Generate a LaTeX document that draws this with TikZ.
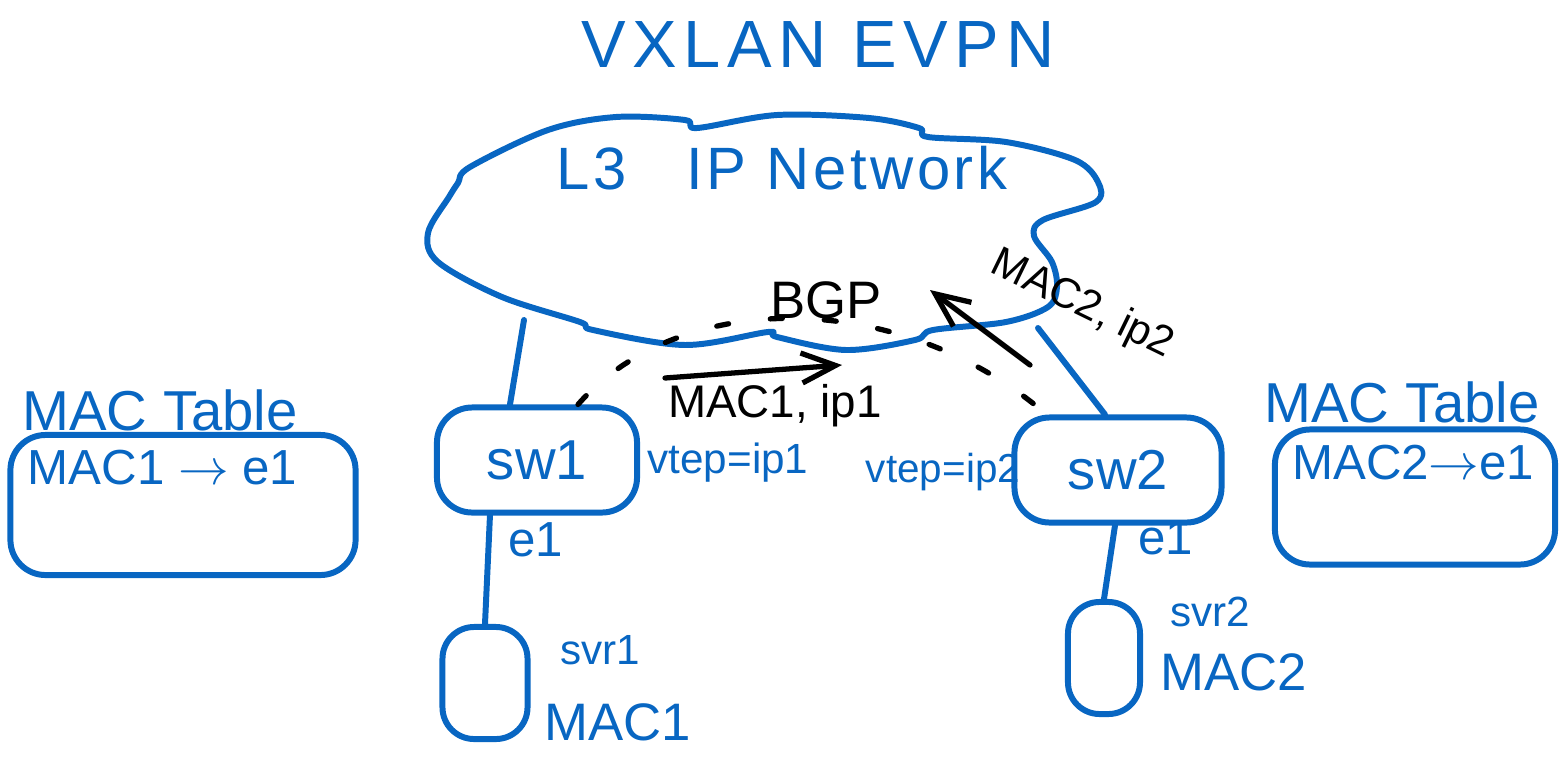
\documentclass[tikz,border=0pt]{standalone}
\usepackage{fontspec}
\setmainfont{Liberation Sans}
\usetikzlibrary{positioning,arrows.meta}
\definecolor{penblue}{RGB}{8,102,194}
\begin{document}
\begin{tikzpicture}[x=0.01cm,y=-0.01cm,line cap=round,line join=round]
    \tikzstyle{pen}=[draw=penblue,line width=1.7pt]
    \tikzstyle{bluetext}=[text=penblue,inner sep=1pt]
    \tikzstyle{switch}=[pen,rounded corners=10pt,minimum width=2cm,minimum height=1.05cm,bluetext]
    \tikzstyle{server}=[pen,rounded corners=9pt,minimum width=0.85cm,minimum height=1.12cm]
    \tikzstyle{table}=[pen,rounded corners=10pt]
    \tikzstyle{bgp}=[draw=black,line width=1.5pt]
    \tikzstyle{barb}=[-{Straight Barb[length=0.34cm,width=0.3cm]}]
    \useasboundingbox (0,0) rectangle (1568,757);

    % title
    \node[bluetext,font=\fontsize{19}{21}\selectfont\addfontfeature{LetterSpace=10}] (title) at (818,45) {VXLAN EVPN};

    % cloud
    \draw[pen] plot[smooth cycle,tension=0.55] coordinates {
        (458,183) (470,167) (548,130) (616,117) (685,120) (697,128)
        (777,115) (869,118) (919,128) (928,137) (1006,142) (1075,160)
        (1098,182) (1096,202) (1043,220) (1034,236) (1052,262) (1057,287)
        (1048,307) (1006,322) (933,330) (915,340) (846,350) (777,337)
        (768,332) (685,345) (593,330) (580,322) (502,297) (438,262)
        (428,233) (449,197)};
    \node[bluetext,font=\fontsize{17}{19}\selectfont\addfontfeature{LetterSpace=6}] (net) at (782,168) {L3\quad IP Network};
    \coordinate (c1) at (524,320);
    \coordinate (c2) at (1038,328);

    % switches
    \foreach \n/\x/\y/\w in {1/537/460/2.0, 2/1118/470/2.07}
        \node[switch,minimum width=\w cm] (sw\n) at (\x,\y) {\fontsize{16}{18}\selectfont sw\n};
    \node[bluetext,font=\fontsize{12}{14}\selectfont] (vtep1) at (728,463) {vtep=ip1};
    \node[bluetext,font=\fontsize{11.5}{13}\selectfont] (vtep2) at (943,472) {vtep=ip2};
    \draw[pen] ([xshift=-0.27cm]sw1.north) -- (c1);
    \draw[pen] ([xshift=-0.13cm]sw2.north) -- (c2);

    % servers
    \node[server] (svr1) at (485,683) {};
    \node[server,minimum width=0.72cm] (svr2) at (1104,658) {};
    \draw[pen] ([xshift=-0.47cm]sw1.south) -- (svr1.north);
    \draw[pen] ([xshift=-0.03cm]sw2.south) -- (svr2.north);
    \node[bluetext,font=\fontsize{14}{16}\selectfont] (port1) at (536,540) {e1};
    \node[bluetext,font=\fontsize{14}{16}\selectfont] (port2) at (1166,538) {e1};
    \node[bluetext,font=\fontsize{12}{14}\selectfont] (name1) at (600,650) {svr1};
    \node[bluetext,font=\fontsize{15}{17}\selectfont] (mac1) at (618,722) {MAC1};
    \node[bluetext,font=\fontsize{12}{14}\selectfont] (name2) at (1210,612) {svr2};
    \node[bluetext,font=\fontsize{15}{17}\selectfont] (mac2) at (1234,672) {MAC2};

    % mac tables
    \node[table,minimum width=3.45cm,minimum height=1.4cm] (tbl1) at (183,505) {};
    \node[table,minimum width=2.8cm,minimum height=1.35cm] (tbl2) at (1415,497) {};
    \node[bluetext,font=\fontsize{16}{18}\selectfont] (head1) at (160,410) {MAC Table};
    \node[bluetext,font=\fontsize{16}{18}\selectfont] (head2) at (1402,402) {MAC Table};
    \node[bluetext,font=\fontsize{14}{16}\selectfont,below right=0.14cm and 0.16cm of tbl1.north west] (ent1) {MAC1 $\rightarrow$ e1};
    \node[bluetext,font=\fontsize{14}{16}\selectfont,below right=0.14cm and 0.16cm of tbl2.north west] (ent2) {MAC2$\rightarrow$e1};

    % bgp session and routes
    \draw[bgp,dash pattern=on 0.12cm off 0.42cm] ([xshift=-0.62cm]sw1.north east) .. controls (680,288) and (900,288) .. ([xshift=0.35cm]sw2.north west);
    \node[font=\fontsize{15}{17}\selectfont] (bgp) at (826,300) {BGP};
    \coordinate (m1a) at (665,378);
    \coordinate (m1b) at (842,365);
    \draw[bgp,barb] (m1a) -- (m1b);
    \node[font=\fontsize{13}{15}\selectfont] (adv1) at (775,406) {MAC1, ip1};
    \coordinate (m2a) at (1030,365);
    \coordinate (m2b) at (930,290);
    \draw[bgp,barb] (m2a) -- (m2b);
    \node[font=\fontsize{12}{14}\selectfont,rotate=-26] (adv2) at (1082,305) {MAC2, ip2};
\end{tikzpicture}
\end{document}
